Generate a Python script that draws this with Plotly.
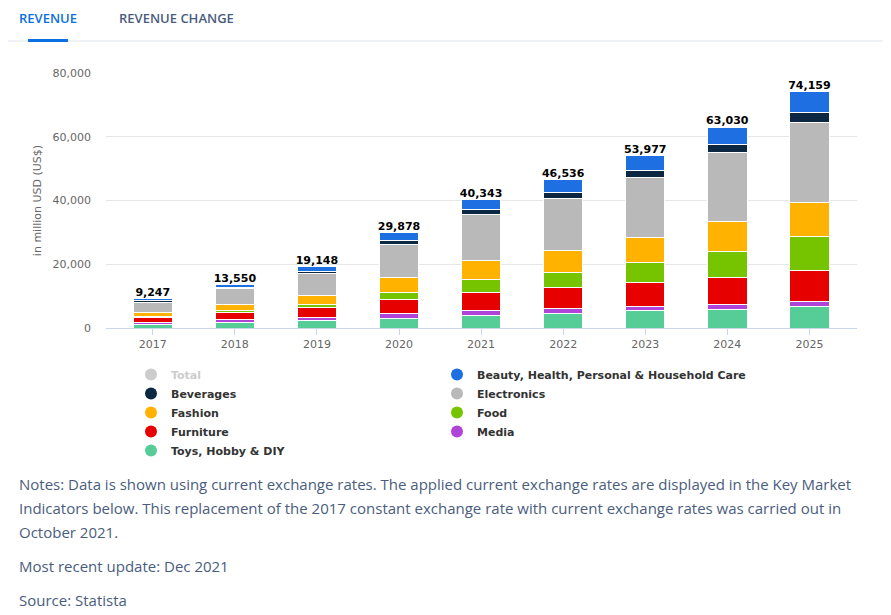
import plotly.graph_objects as go

years = ["2017", "2018", "2019", "2020", "2021", "2022", "2023", "2024", "2025"]
totals = [9247, 13550, 19148, 29878, 40343, 46536, 53977, 63030, 74159]

toys = [950, 1600, 2250, 3050, 4000, 4650, 5350, 5950, 6900]
media = [800, 950, 950, 1550, 1550, 1550, 1450, 1550, 1550]
furniture = [1550, 2350, 3200, 4400, 5700, 6600, 7600, 8450, 9700]
food = [350, 650, 850, 2100, 4100, 4700, 6250, 8000, 10650]
fashion = [1150, 1950, 2950, 4800, 5900, 6800, 7800, 9500, 10650]
electronics = [3250, 4900, 6900, 10350, 14300, 16300, 18800, 21500, 25100]
beverages = [450, 350, 600, 1150, 1550, 1900, 2200, 2600, 3130]
beauty = [750, 800, 1450, 2480, 3240, 4040, 4530, 5480, 6480]

y_ticks = [0, 20000, 40000, 60000, 80000]

# (name, values, color, legend, rank) in stacking order bottom -> top
series = [
    ("Toys, Hobby & DIY", toys, "#56cd96", "legend", 5),
    ("Media", media, "#b044d8", "legend2", 4),
    ("Furniture", furniture, "#e60000", "legend", 4),
    ("Food", food, "#76c400", "legend2", 3),
    ("Fashion", fashion, "#ffb300", "legend", 3),
    ("Electronics", electronics, "#b9b9b9", "legend2", 2),
    ("Beverages", beverages, "#0b2742", "legend", 2),
    ("Beauty, Health, Personal & Household Care", beauty, "#1e6fe1", "legend2", 1),
]

fig = go.Figure()

for name, vals, color, leg, rank in series:
    fig.add_trace(go.Bar(
        x=years, y=vals, name=name, legendgroup=name, showlegend=False,
        marker=dict(color=color, line=dict(color="white", width=1)),
        hoverinfo="skip",
    ))

# legend entries (circle markers)
fig.add_trace(go.Scatter(
    x=[None], y=[None], mode="markers", name="<span style='color:#cccccc'>Total</span>",
    marker=dict(symbol="circle", size=12, color="#cccccc"),
    legend="legend", legendrank=1, showlegend=True,
))
for name, vals, color, leg, rank in series:
    fig.add_trace(go.Scatter(
        x=[None], y=[None], mode="markers", name=name, legendgroup=name,
        marker=dict(symbol="circle", size=12, color=color),
        legend=leg, legendrank=rank, showlegend=True,
    ))

# total labels
fig.add_trace(go.Scatter(
    x=years, y=totals, mode="text", showlegend=False,
    text=[f"{v:,}" for v in totals], textposition="top center",
    textfont=dict(family="DejaVu Sans", size=11, color="#000000", weight="bold"),
    hoverinfo="skip",
))

# page offset (body margin) of 8px
OFF = 8
W, H = 891 - OFF, 615 - OFF
# plot area in reference pixels: x 106..857, y 73..328
L = 106 - OFF
R = W - (857 - OFF)
T = 73 - OFF
B = H - (328 - OFF)
pw = W - L - R
ph = H - T - B

def px_x(x):
    return (x - OFF - L) / pw

def px_y(y):
    return (H - B - (y - OFF)) / ph

fig.update_layout(
    width=W, height=H,
    margin=dict(l=L, r=R, t=T, b=B, autoexpand=False),
    paper_bgcolor="white", plot_bgcolor="white",
    barmode="stack", bargap=0.52,
    font=dict(family="DejaVu Sans", size=11, color="#666666"),
    xaxis=dict(
        type="category", range=[-0.57, 8.58],
        showline=True, linecolor="#ccd6eb", linewidth=1,
        ticks="outside", ticklen=6, tickcolor="#ccd6eb",
        tickfont=dict(family="DejaVu Sans", size=11, color="#666666"),
        showgrid=False, fixedrange=True,
    ),
    yaxis=dict(
        range=[0, 80000], tickvals=y_ticks, tickformat=",",
        showgrid=True, gridcolor="#e6e6e6", gridwidth=1,
        zeroline=False, showline=False,
        ticklabelstandoff=14,
        tickfont=dict(family="DejaVu Sans", size=11, color="#666666"),
        title=dict(text="in million USD (US$)", standoff=8,
                   font=dict(family="DejaVu Sans", size=11, color="#666666")),
        fixedrange=True,
    ),
    legend=dict(
        x=px_x(131), y=px_y(360), xanchor="left", yanchor="top",
        orientation="v", bgcolor="rgba(0,0,0,0)", tracegroupgap=0,
        font=dict(family="DejaVu Sans", size=11, color="#333333", weight="bold"),
        itemclick=False, itemdoubleclick=False,
    ),
    legend2=dict(
        x=px_x(437), y=px_y(360), xanchor="left", yanchor="top",
        orientation="v", bgcolor="rgba(0,0,0,0)", tracegroupgap=0,
        font=dict(family="DejaVu Sans", size=11, color="#333333", weight="bold"),
        itemclick=False, itemdoubleclick=False,
    ),
    showlegend=True,
)

# tabs
fig.add_annotation(text="REVENUE", xref="paper", yref="paper", x=px_x(17), y=px_y(18),
                   xanchor="left", yanchor="middle", showarrow=False,
                   font=dict(family="Open Sans", size=13, color="#0a6fe0", weight=600))
fig.add_annotation(text="REVENUE CHANGE", xref="paper", yref="paper", x=px_x(117), y=px_y(18),
                   xanchor="left", yanchor="middle", showarrow=False,
                   font=dict(family="Open Sans", size=13, color="#4a5d7e", weight=600))
fig.add_shape(type="rect", xref="paper", yref="paper", x0=px_x(0), x1=px_x(891),
              y0=px_y(42), y1=px_y(40), fillcolor="#eef2f7", line=dict(width=0), layer="below")
fig.add_shape(type="rect", xref="paper", yref="paper", x0=px_x(28), x1=px_x(68),
              y0=px_y(42), y1=px_y(39), fillcolor="#0a6fe0", line=dict(width=0))

notes = [
    ("Notes: Data is shown using current exchange rates. The applied current exchange rates are displayed in the Key Market", 484),
    ("Indicators below. This replacement of the 2017 constant exchange rate with current exchange rates was carried out in", 508),
    ("October 2021.", 532),
    ("Most recent update: Dec 2021", 566),
    ("Source: Statista", 600),
]
for txt, yy in notes:
    fig.add_annotation(text=txt, xref="paper", yref="paper", x=px_x(17), y=px_y(yy),
                       xanchor="left", yanchor="middle", showarrow=False,
                       font=dict(family="Open Sans", size=15, color="#4a5d7e"))

fig.write_html("out.html")
